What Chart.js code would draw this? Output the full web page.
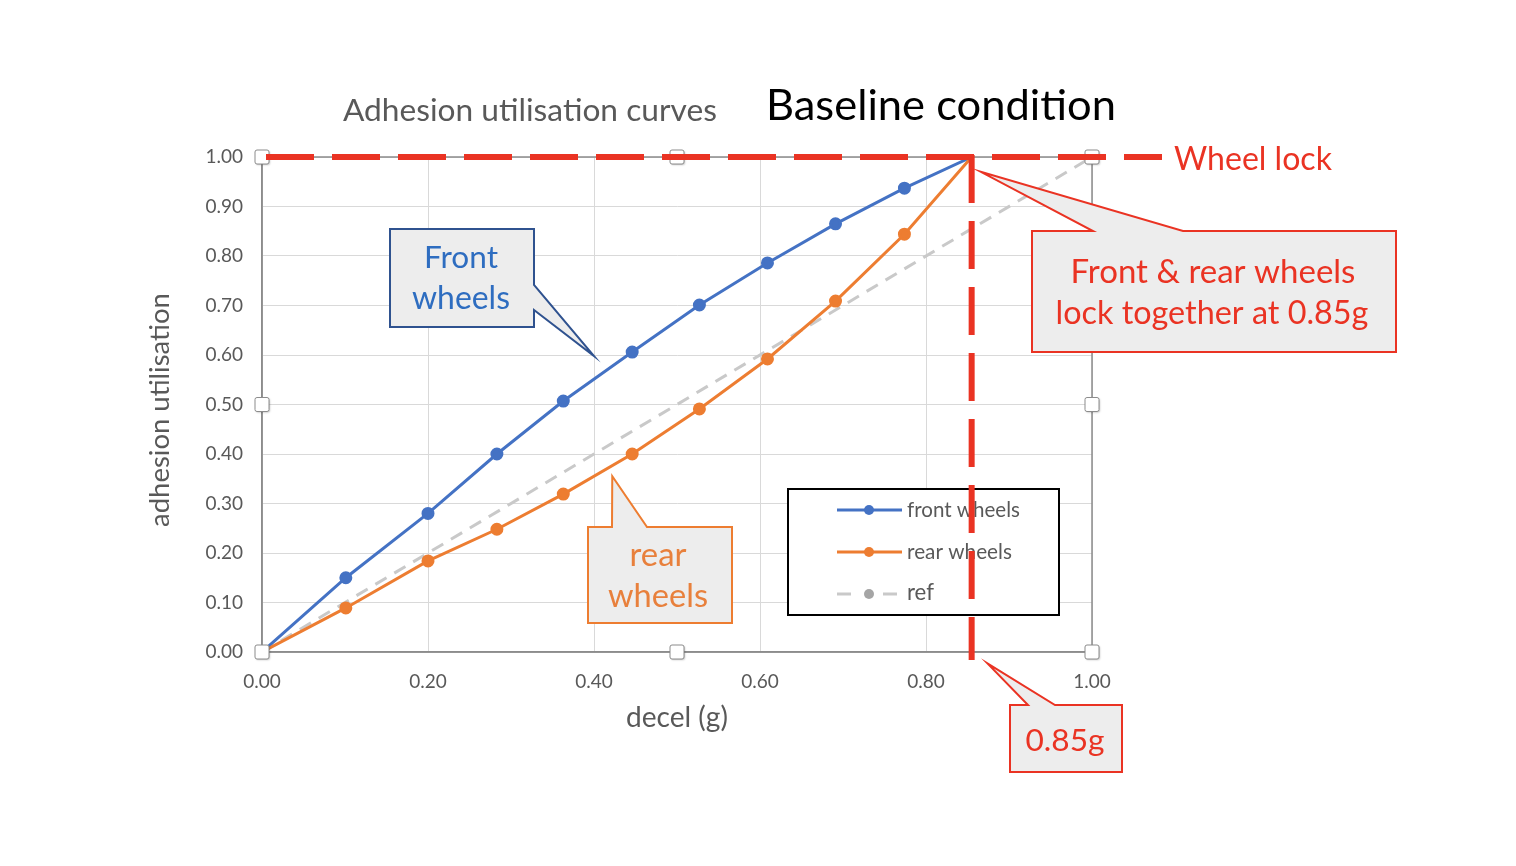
<!DOCTYPE html>
<html>
<head>
<meta charset="utf-8">
<script src="https://cdn.jsdelivr.net/npm/chart.js@4/dist/chart.umd.min.js"></script>
<style>
  html, body { margin: 0; padding: 0; background: #ffffff; }
  #wrap { width: 1516px; height: 866px; }
</style>
</head>
<body>
<div id="wrap"><canvas id="c" width="1516" height="866"></canvas></div>
<script>
// ---- data ----
const decel       = [0, 0.101, 0.200, 0.283, 0.363, 0.446, 0.527, 0.609, 0.691, 0.774, 0.855];
const frontWheels = [0, 0.150, 0.280, 0.400, 0.507, 0.606, 0.701, 0.786, 0.865, 0.937, 1.000];
const rearWheels  = [0, 0.089, 0.184, 0.248, 0.319, 0.400, 0.491, 0.592, 0.709, 0.844, 1.000];
const refDecel    = [0, 1];
const refUtil     = [0, 1];
const seriesNames = ['front wheels', 'rear wheels', 'ref'];
const lockDecel   = 0.855;   // wheel-lock deceleration
const lockUtil    = 1.00;    // wheel-lock adhesion utilisation
const xTickStep   = 0.2;
const yTickStep   = 0.1;

const RED = '#EA3323', BLUE = '#4472C4', ORANGE = '#ED7D31', GREY_REF = '#C9C9C9';
const FONT = 'Lato, "Open Sans", sans-serif';

const toXY = (xs, ys) => xs.map((x, i) => ({ x: x, y: ys[i] }));
const endRadius = (arr, r) => arr.map((_, i) => (i === 0 || i === arr.length - 1) ? 0 : r);

function fitText(ctx, text, x, y, width, color, align, baseSize, rotate) {
  ctx.save();
  ctx.font = baseSize + 'px ' + FONT;
  const w = ctx.measureText(text).width;
  const size = baseSize * width / w;
  ctx.font = size + 'px ' + FONT;
  ctx.fillStyle = color;
  ctx.textAlign = align;
  ctx.textBaseline = 'alphabetic';
  if (rotate) { ctx.translate(x, y); ctx.rotate(-Math.PI / 2); ctx.fillText(text, 0, 0); }
  else ctx.fillText(text, x, y);
  ctx.restore();
}

function callout(ctx, box, side, a, b, tip, stroke, fill) {
  ctx.save();
  ctx.beginPath();
  if (side === 'top') {
    ctx.moveTo(box.l, box.t); ctx.lineTo(a, box.t); ctx.lineTo(tip.x, tip.y);
    ctx.lineTo(b, box.t); ctx.lineTo(box.r, box.t); ctx.lineTo(box.r, box.b);
    ctx.lineTo(box.l, box.b);
  } else {
    ctx.moveTo(box.l, box.t); ctx.lineTo(box.r, box.t); ctx.lineTo(box.r, a);
    ctx.lineTo(tip.x, tip.y); ctx.lineTo(box.r, b); ctx.lineTo(box.r, box.b);
    ctx.lineTo(box.l, box.b);
  }
  ctx.closePath();
  ctx.fillStyle = fill; ctx.fill();
  ctx.lineWidth = 2; ctx.strokeStyle = stroke; ctx.lineJoin = 'miter'; ctx.stroke();
  ctx.restore();
}

function handle(ctx, x, y) {
  ctx.save();
  ctx.shadowColor = 'rgba(0,0,0,0.25)'; ctx.shadowBlur = 2; ctx.shadowOffsetX = 1; ctx.shadowOffsetY = 1;
  ctx.fillStyle = '#ffffff';
  ctx.beginPath(); ctx.roundRect(x - 7, y - 7, 14, 14, 2); ctx.fill();
  ctx.shadowColor = 'transparent';
  ctx.strokeStyle = '#8C8C8C'; ctx.lineWidth = 1; ctx.stroke();
  ctx.restore();
}

const decorations = {
  id: 'decorations',
  beforeDatasetsDraw(chart) {
    const { ctx, chartArea: a } = chart;
    ctx.save();
    ctx.strokeStyle = '#8C8C8C'; ctx.lineWidth = 1.5;
    ctx.strokeRect(a.left, a.top, a.right - a.left, a.bottom - a.top);
    ctx.restore();
  },
  afterDraw(chart) {
    const { ctx, chartArea: a } = chart;
    const xs = chart.scales.x, ys = chart.scales.y;

    // legend
    ctx.save();
    ctx.fillStyle = '#ffffff'; ctx.fillRect(788, 489, 271, 126);
    ctx.strokeStyle = '#000000'; ctx.lineWidth = 2; ctx.strokeRect(788, 489, 271, 126);
    const rows = [510, 552, 594];
    const cols = [BLUE, ORANGE, GREY_REF];
    rows.forEach((ry, i) => {
      ctx.strokeStyle = cols[i]; ctx.lineWidth = 3;
      if (i === 2) ctx.setLineDash([14, 9]); else ctx.setLineDash([]);
      ctx.beginPath(); ctx.moveTo(837, ry); ctx.lineTo(902, ry); ctx.stroke();
      ctx.setLineDash([]);
      ctx.fillStyle = i === 2 ? '#A5A5A5' : cols[i];
      if (i === 2) { ctx.fillStyle = '#ffffff'; ctx.fillRect(855, ry - 3, 28, 6); ctx.fillStyle = '#A5A5A5'; }
      ctx.beginPath(); ctx.arc(869, ry, 5, 0, Math.PI * 2); ctx.fill();
    });
    ctx.restore();
    fitText(ctx, seriesNames[0], 907, 517, 113, '#595959', 'left', 18);
    fitText(ctx, seriesNames[1], 907, 559, 105, '#595959', 'left', 18);
    fitText(ctx, seriesNames[2], 907, 600, 27, '#595959', 'left', 18);

    // selection handles
    const mx = (a.left + a.right) / 2, my = (a.top + a.bottom) / 2;
    [[a.left, a.top], [mx, a.top], [a.right, a.top], [a.left, my], [a.right, my],
     [a.left, a.bottom], [mx, a.bottom], [a.right, a.bottom]].forEach(p => handle(ctx, p[0], p[1]));

    // red wheel-lock lines
    const lx = xs.getPixelForValue(lockDecel), ly = ys.getPixelForValue(lockUtil);
    ctx.save();
    ctx.strokeStyle = RED; ctx.lineWidth = 6; ctx.setLineDash([48, 18]); ctx.lineCap = 'butt';
    ctx.beginPath(); ctx.moveTo(a.left + 4, ly); ctx.lineTo(1162, ly); ctx.stroke();
    ctx.beginPath(); ctx.moveTo(lx, ly - 2); ctx.lineTo(lx, a.bottom + 8); ctx.stroke();
    ctx.restore();
    fitText(ctx, 'Wheel lock', 1174, 170, 158, RED, 'left', 30);

    // callouts
    const fill = '#EDEDED';
    callout(ctx, { l: 390, t: 229, r: 534, b: 327 }, 'right', 285, 310,
      { x: xs.getPixelForValue(0.400), y: ys.getPixelForValue(0.598) }, '#2F528F', fill);
    fitText(ctx, 'Front', 461, 268, 74, '#2E6DC0', 'center', 30);
    fitText(ctx, 'wheels', 461, 309, 98, '#2E6DC0', 'center', 30);

    callout(ctx, { l: 588, t: 527, r: 732, b: 623 }, 'top', 612, 647,
      { x: xs.getPixelForValue(0.422), y: ys.getPixelForValue(0.355) }, ORANGE, fill);
    fitText(ctx, 'rear', 658, 566, 57, '#E8803C', 'center', 30);
    fitText(ctx, 'wheels', 658, 607, 100, '#E8803C', 'center', 30);

    callout(ctx, { l: 1032, t: 231, r: 1396, b: 352 }, 'top', 1093, 1183,
      { x: xs.getPixelForValue(0.866), y: ys.getPixelForValue(0.970) }, RED, fill);
    fitText(ctx, 'Front & rear wheels', 1213, 283, 285, RED, 'center', 30);
    fitText(ctx, 'lock together at 0.85g', 1212, 324, 313, RED, 'center', 30);

    callout(ctx, { l: 1010, t: 705, r: 1122, b: 772 }, 'top', 1028, 1055,
      { x: xs.getPixelForValue(0.874), y: ys.getPixelForValue(-0.023) }, RED, fill);
    fitText(ctx, '0.85g', 1065, 751, 79, RED, 'center', 32);

    // titles
    fitText(ctx, 'Adhesion utilisation curves', 343, 121, 374, '#595959', 'left', 28);
    fitText(ctx, 'Baseline condition', 766, 120, 350, '#000000', 'left', 40);
    fitText(ctx, 'adhesion utilisation', 169, 410 + 117, 234, '#595959', 'left', 24, true);
    fitText(ctx, 'decel (g)', 677, 727, 102, '#595959', 'center', 24);
  }
};

Chart.defaults.font.family = FONT;

new Chart(document.getElementById('c'), {
  type: 'line',
  data: {
    datasets: [
      { label: seriesNames[0], data: toXY(decel, frontWheels), borderColor: BLUE, backgroundColor: BLUE,
        borderWidth: 3, pointRadius: endRadius(decel, 5), pointBackgroundColor: BLUE, pointBorderColor: BLUE,
        tension: 0, order: 2 },
      { label: seriesNames[1], data: toXY(decel, rearWheels), borderColor: ORANGE, backgroundColor: ORANGE,
        borderWidth: 3, pointRadius: endRadius(decel, 5), pointBackgroundColor: ORANGE, pointBorderColor: ORANGE,
        tension: 0, order: 1 },
      { label: seriesNames[2], data: toXY(refDecel, refUtil), borderColor: GREY_REF, backgroundColor: GREY_REF,
        borderWidth: 3, borderDash: [13, 9], pointRadius: 0, tension: 0, order: 3 }
    ]
  },
  options: {
    responsive: false,
    animation: false,
    devicePixelRatio: 1,
    layout: { padding: { left: 0, top: 157, right: 424, bottom: 154 } },
    plugins: { legend: { display: false }, tooltip: { enabled: false }, title: { display: false } },
    scales: {
      x: {
        type: 'linear', min: 0, max: 1,
        ticks: { stepSize: xTickStep, callback: v => Number(v).toFixed(2), color: '#595959',
                 font: { size: 19 }, padding: 18, maxRotation: 0 },
        grid: { color: '#D9D9D9', lineWidth: 1, drawTicks: false },
        border: { color: '#8C8C8C', width: 1.5 },
        afterFit: s => { s.height = 60; }
      },
      y: {
        type: 'linear', min: 0, max: 1,
        ticks: { stepSize: yTickStep, callback: v => Number(v).toFixed(2), color: '#595959',
                 font: { size: 19 }, padding: 19 },
        grid: { color: '#D9D9D9', lineWidth: 1, drawTicks: false },
        border: { color: '#8C8C8C', width: 1.5 },
        afterFit: s => { s.width = 262; }
      }
    }
  },
  plugins: [decorations]
});
</script>
</body>
</html>
